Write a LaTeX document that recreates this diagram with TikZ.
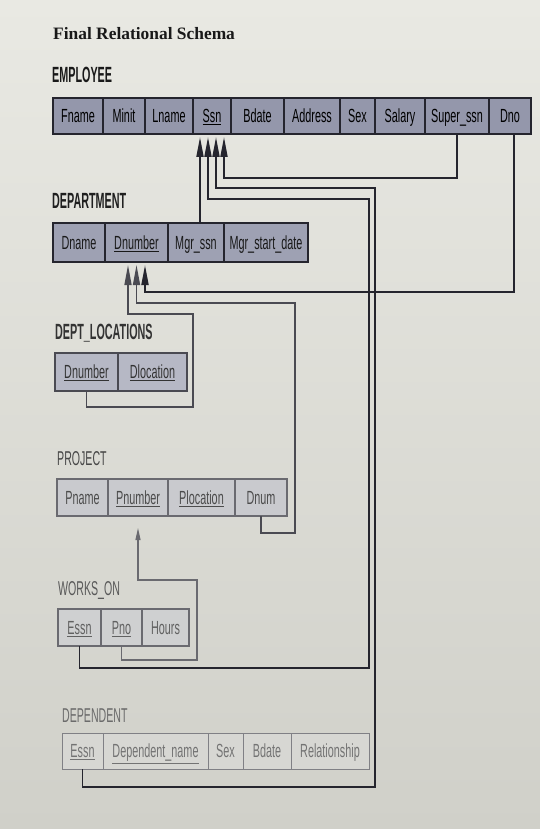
\documentclass[tikz,border=0pt]{standalone}
\usepackage{fontspec}
\setmainfont{Liberation Serif}
\newfontfamily\cellfont[FakeStretch=0.57]{Liberation Sans}
\newfontfamily\headfont[FakeStretch=0.49]{Liberation Sans}
\newfontfamily\headfontlight[FakeStretch=0.53]{Liberation Sans}
\usetikzlibrary{arrows.meta}
\definecolor{bgtop}{HTML}{E9E9E3}
\definecolor{bgbot}{HTML}{D0D0C9}
\definecolor{empfill}{HTML}{9497AB}
\definecolor{depfill}{HTML}{9EA1B3}
\definecolor{locfill}{HTML}{B6B8C5}
\definecolor{projfill}{HTML}{C9CACE}
\definecolor{workfill}{HTML}{CFD0D1}
\definecolor{dpdfill}{HTML}{D7D7D3}
\definecolor{darkline}{HTML}{25252E}
\definecolor{midline}{HTML}{4A4A52}
\definecolor{lightline}{HTML}{6A6A70}
\newcommand\rcell[7]{\node[#1,minimum width={#4pt-#3pt},minimum height={#6pt-#5pt}] (#2) at ({(#3+#4)/2},{(#5+#6)/2}) {#7};}
\begin{document}
\begin{tikzpicture}[x=1pt,y=-1pt,
  cellbase/.style={draw,inner sep=0pt,outer sep=0pt,anchor=center,
    font=\cellfont\fontsize{19}{21}\selectfont,text height=13.5pt,text depth=0pt},
  cellE/.style={cellbase,fill=empfill,draw=darkline,line width=1.8pt,text=black},
  cellD/.style={cellbase,fill=depfill,draw=darkline,line width=1.6pt,text=black!90},
  cellL/.style={cellbase,fill=locfill,draw=midline,line width=1.3pt,text=black!80},
  cellP/.style={cellbase,fill=projfill,draw=lightline,line width=1.2pt,text=black!70},
  cellW/.style={cellbase,fill=workfill,draw=lightline,line width=1.1pt,text=black!62},
  cellT/.style={cellbase,fill=dpdfill,draw=lightline!85,line width=1pt,text=black!55},
  headbold/.style={anchor=base west,inner sep=0pt,font=\headfont\bfseries\fontsize{22}{24}\selectfont},
  headlight/.style={anchor=base west,inner sep=0pt,font=\headfontlight\fontsize{20}{22}\selectfont},
  fkE/.style={draw=darkline,line width=1.8pt},
  fkM/.style={draw=midline,line width=1.4pt},
  fkL/.style={draw=lightline,line width=1.1pt},
  tipE/.style={-{Triangle[length=20pt,width=7pt]}},
  tipP/.style={-{Triangle[length=12pt,width=5pt]}}
]
\shade[top color=bgtop,bottom color=bgbot] (0,0) rectangle (540,829);
\useasboundingbox (0,0) rectangle (540,829);

% headings
\node[anchor=base west,inner sep=0pt,font=\bfseries\fontsize{17.4}{19}\selectfont,text=black!90] (title) at (53,40) {Final Relational Schema};
\node[headbold,text=black!90] (hemp) at (52,83) {EMPLOYEE};
\node[headbold,text=black!88] (hdep) at (52,208) {DEPARTMENT};
\node[headbold,text=black!80] (hloc) at (55,339) {DEPT\_LOCATIONS};
\node[headlight,text=black!72] (hproj) at (57,465) {PROJECT};
\node[headlight,text=black!65] (hwork) at (58,595) {WORKS\_ON};
\node[headlight,text=black!58] (hdpd) at (62,722) {DEPENDENT};

% EMPLOYEE
\rcell{cellE}{fname}{53}{103}{98}{134}{Fname}
\rcell{cellE}{minit}{103}{145}{98}{134}{Minit}
\rcell{cellE}{lname}{145}{193}{98}{134}{Lname}
\rcell{cellE}{ssn}{193}{231}{98}{134}{\underline{Ssn}}
\rcell{cellE}{bdate}{231}{284}{98}{134}{Bdate}
\rcell{cellE}{address}{284}{340}{98}{134}{Address}
\rcell{cellE}{sex}{340}{375}{98}{134}{Sex}
\rcell{cellE}{salary}{375}{425}{98}{134}{Salary}
\rcell{cellE}{superssn}{425}{489}{98}{134}{Super\_ssn}
\rcell{cellE}{dno}{489}{531}{98}{134}{Dno}

% DEPARTMENT
\rcell{cellD}{dname}{53}{105}{223}{262}{Dname}
\rcell{cellD}{dnumber}{105}{168}{223}{262}{\underline{Dnumber}}
\rcell{cellD}{mgrssn}{168}{224}{223}{262}{Mgr\_ssn}
\rcell{cellD}{mgrdate}{224}{308}{223}{262}{Mgr\_start\_date}

% DEPT_LOCATIONS
\rcell{cellL}{ldnumber}{55}{118}{353}{391}{\underline{Dnumber}}
\rcell{cellL}{dlocation}{118}{187}{353}{391}{\underline{Dlocation}}

% PROJECT
\rcell{cellP}{pname}{57}{108}{479}{516}{Pname}
\rcell{cellP}{pnumber}{108}{168}{479}{516}{\underline{Pnumber}}
\rcell{cellP}{plocation}{168}{235}{479}{516}{\underline{Plocation}}
\rcell{cellP}{dnum}{235}{287}{479}{516}{Dnum}

% WORKS_ON
\rcell{cellW}{wessn}{58}{101}{609}{646}{\underline{Essn}}
\rcell{cellW}{wpno}{101}{142}{609}{646}{\underline{Pno}}
\rcell{cellW}{whours}{142}{189}{609}{646}{Hours}

% DEPENDENT
\rcell{cellT}{tessn}{62}{103}{733}{769}{\underline{Essn}}
\rcell{cellT}{tname}{103}{208}{733}{769}{\underline{Dependent\_name}}
\rcell{cellT}{tsex}{208}{243}{733}{769}{Sex}
\rcell{cellT}{tbdate}{243}{291}{733}{769}{Bdate}
\rcell{cellT}{trel}{291}{369}{733}{769}{Relationship}

% turning points
\coordinate (a1) at (224,178);
\coordinate (c1) at (369,668);
\coordinate (c2) at (208,199);
\coordinate (d1) at (375,787);
\coordinate (d2) at (216,188);
\coordinate (e1) at (145,292);
\coordinate (f1) at (295,533);
\coordinate (f2) at (136.5,303);
\coordinate (g1) at (193,407);
\coordinate (g2) at (128,314);
\coordinate (h1) at (197,660);
\coordinate (h2) at (138,580);

% connectors into EMPLOYEE.Ssn
\draw[fkE,tipE] (superssn.south) |- (a1) -- ([xshift=12pt,yshift=-3pt]ssn.south);
\draw[fkE,tipE] ([xshift=4pt]mgrssn.north) -- ([xshift=-12pt,yshift=-3pt]ssn.south);
\draw[fkE,tipE] (wessn.south) |- (c1) |- (c2) -- ([xshift=-4pt,yshift=-3pt]ssn.south);
\draw[fkE,tipE] (tessn.south) |- (d1) |- (d2) -- ([xshift=4pt,yshift=-3pt]ssn.south);

% connectors into DEPARTMENT.Dnumber
\draw[fkE,tipE] ([xshift=4pt]dno.south) |- (e1) -- ([xshift=8.5pt,yshift=-3pt]dnumber.south);
\draw[fkM,tipE] (dnum.south) |- (f1) |- (f2) -- ([yshift=-3pt]dnumber.south);
\draw[fkM,tipE] (ldnumber.south) |- (g1) |- (g2) -- ([xshift=-8.5pt,yshift=-3pt]dnumber.south);

% connector into PROJECT.Pnumber
\draw[fkL,tipP] (wpno.south) |- (h1) |- (h2) -- ([yshift=-12pt]pnumber.south);
\end{tikzpicture}
\end{document}
